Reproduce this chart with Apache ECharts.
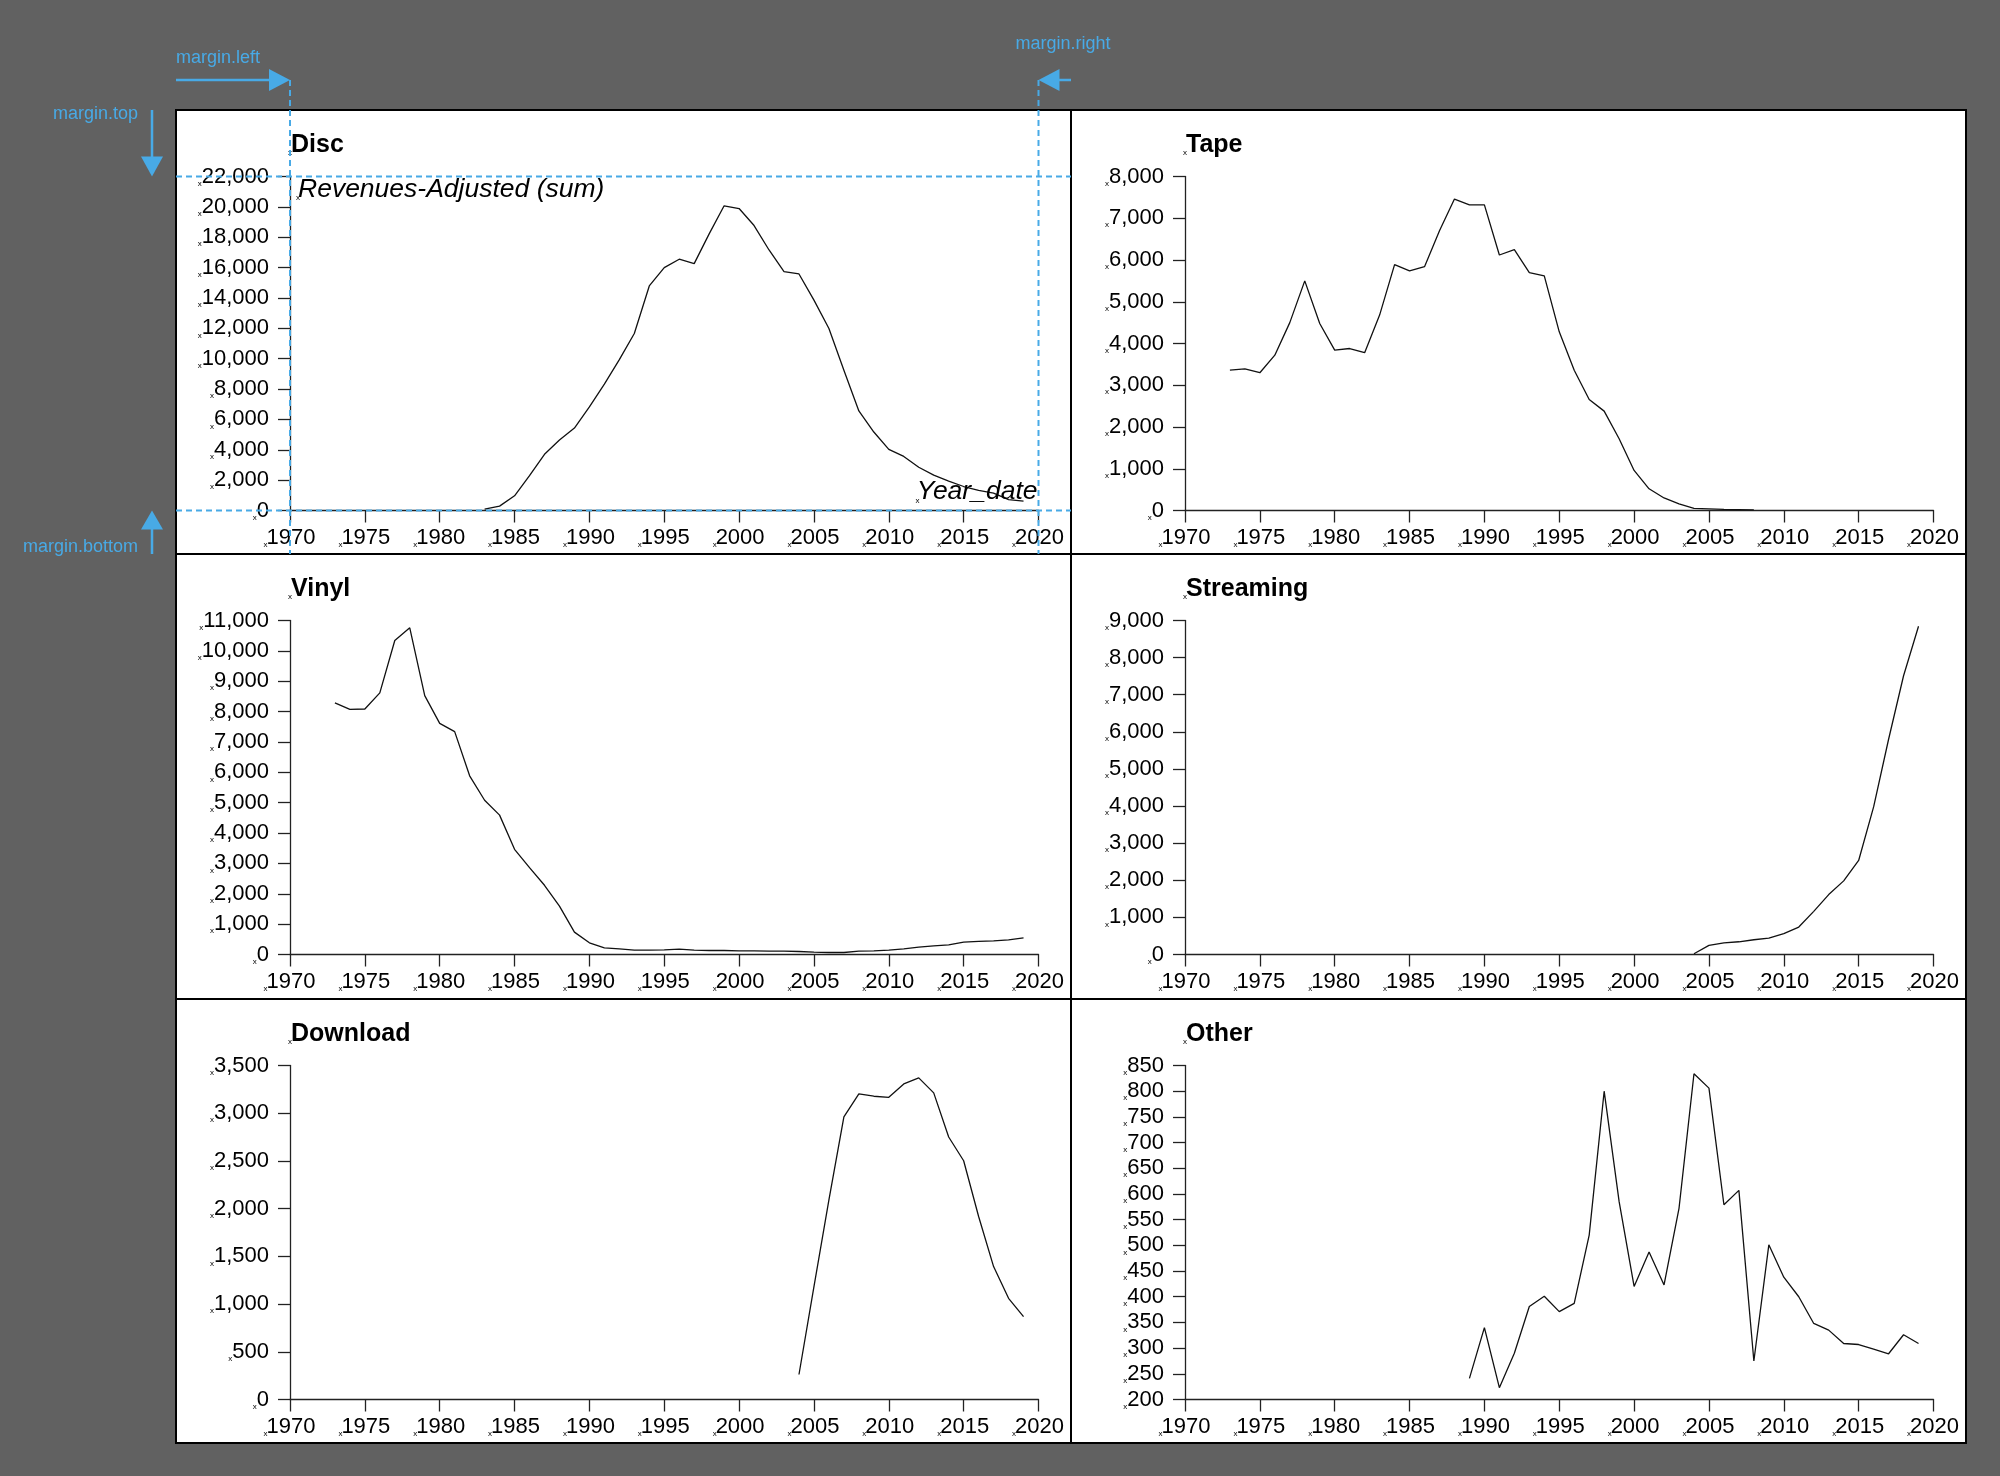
<!DOCTYPE html>
<html><head><meta charset="utf-8">
<script src="https://cdn.jsdelivr.net/npm/echarts@6/dist/echarts.min.js"></script>
<style>html,body{margin:0;padding:0;background:#616161}#c{width:2000px;height:1476px}</style>
</head><body><div id="c"></div>
<script>
// ---------- data ----------
const panelNames = ['Disc', 'Tape', 'Vinyl', 'Streaming', 'Download', 'Other'];
const xMin = 1970, xMax = 2020, xStep = 5;

const discStart = 1983;
const discValues = [90, 290, 970, 2290, 3700, 4640, 5430, 6820, 8320, 9940, 11660, 14790, 16000, 16550, 16260, 18220, 20070, 19890, 18770, 17160, 15730, 15580, 13860, 11990, 9240, 6560, 5170, 4030, 3560, 2850, 2330, 1940, 1580, 1320, 1150, 720, 620];

const tapeStart = 1973;
const tapeValues = [3360, 3390, 3300, 3720, 4500, 5500, 4480, 3840, 3880, 3780, 4680, 5890, 5740, 5840, 6700, 7460, 7320, 7320, 6120, 6250, 5700, 5620, 4280, 3360, 2660, 2380, 1720, 960, 520, 300, 160, 50, 40, 25, 20, 15];

const vinylStart = 1973;
const vinylValues = [8290, 8075, 8085, 8615, 10340, 10760, 8525, 7610, 7340, 5885, 5080, 4590, 3465, 2860, 2280, 1595, 737, 385, 220, 187, 143, 143, 154, 176, 143, 132, 132, 121, 121, 110, 110, 99, 77, 66, 66, 110, 121, 143, 187, 242, 286, 319, 407, 429, 451, 484, 550];

const streamingStart = 2004;
const streamingValues = [20, 245, 315, 343, 397, 442, 560, 740, 1163, 1614, 1984, 2534, 3977, 5800, 7511, 8846];

const downloadStart = 2004;
const downloadValues = [262, 1183, 2093, 2961, 3202, 3178, 3167, 3307, 3370, 3213, 2751, 2502, 1918, 1393, 1060, 868];

const otherStart = 1989;
const otherValues = [241, 340, 223, 290, 381, 401, 371, 387, 520, 800, 585, 420, 487, 423, 572, 834, 806, 579, 607, 275, 501, 438, 400, 348, 335, 309, 307, 298, 289, 326, 309];

const yMins = [0, 0, 0, 0, 0, 200];
const yMaxs = [22000, 8000, 11000, 9000, 3500, 850];
const ySteps = [2000, 1000, 1000, 1000, 500, 50];

const yAxisName = 'Revenues-Adjusted (sum)';
const xAxisName = 'Year_date';
const marginLabels = ['margin.left', 'margin.top', 'margin.right', 'margin.bottom'];

// ---------- layout ----------
const FF = '"Liberation Sans", Arial, Helvetica, sans-serif';
const BLUE = '#48aae6';
const PL = [176, 1071], PT = [110, 554, 999];
const PW = 895, PH = 444;
const GL = 114, GT = 66.5, GW = 748.5, GH = 334;

const starts = [discStart, tapeStart, vinylStart, streamingStart, downloadStart, otherStart];
const values = [discValues, tapeValues, vinylValues, streamingValues, downloadValues, otherValues];

const rich = {
  m: { fontSize: 8, fontFamily: FF, color: '#000', width: 2, verticalAlign: 'bottom', lineHeight: 10 },
  v: { fontSize: 22, fontFamily: FF, color: '#000' }
};

const grids = [], xAxes = [], yAxes = [], series = [], graphics = [];

function txt(x, baseline, str, size, opts) {
  opts = opts || {};
  return {
    type: 'text', z: opts.z || 50, silent: true,
    style: {
      text: str, x: x, y: baseline - 0.35 * size,
      font: (opts.style || '') + ' ' + (opts.weight || 'normal') + ' ' + size + 'px ' + FF,
      fill: opts.fill || '#000',
      align: opts.align || 'left', textAlign: opts.align || 'left',
      verticalAlign: 'middle', textVerticalAlign: 'middle'
    }
  };
}
function marker(x, y) { return txt(x - 2, y + 2, 'x', 8); }

// background panels
graphics.push({ type: 'rect', z: -10, silent: true,
  shape: { x: PL[0], y: PT[0], width: 2 * PW, height: 3 * PH + 1 },
  style: { fill: '#fff', stroke: '#000', lineWidth: 2 } });
graphics.push({ type: 'line', z: -9, silent: true,
  shape: { x1: PL[1], y1: PT[0], x2: PL[1], y2: PT[0] + 3 * PH + 1 }, style: { stroke: '#000', lineWidth: 2 } });
[PT[1], PT[2]].forEach(y => graphics.push({ type: 'line', z: -9, silent: true,
  shape: { x1: PL[0], y1: y, x2: PL[0] + 2 * PW, y2: y }, style: { stroke: '#000', lineWidth: 2 } }));

for (let i = 0; i < 6; i++) {
  const col = i % 2, row = Math.floor(i / 2);
  const left = PL[col] + GL, top = PT[row] + GT;
  grids.push({ left: left, top: top, width: GW, height: GH, containLabel: false });
  xAxes.push({
    gridIndex: i, type: 'value', min: xMin, max: xMax, interval: xStep,
    axisLine: { show: true, onZero: false, lineStyle: { color: '#222', width: 1.3 } },
    axisTick: { show: true, length: 12, lineStyle: { color: '#222', width: 1.3 } },
    splitLine: { show: false },
    axisLabel: { margin: 16, showMinLabel: true, showMaxLabel: true, hideOverlap: false,
      formatter: v => '{m|x}{v|' + v + '}', rich: rich }
  });
  yAxes.push({
    gridIndex: i, type: 'value', min: yMins[i], max: yMaxs[i], interval: ySteps[i],
    axisLine: { show: true, onZero: false, lineStyle: { color: '#222', width: 1.3 } },
    axisTick: { show: true, length: 12, lineStyle: { color: '#222', width: 1.3 } },
    splitLine: { show: false },
    axisLabel: { margin: 21, showMinLabel: true, showMaxLabel: true, hideOverlap: false,
      formatter: v => '{m|x}{v|' + v.toLocaleString('en-US') + '}', rich: rich }
  });
  series.push({
    type: 'line', xAxisIndex: i, yAxisIndex: i, showSymbol: false, silent: true,
    lineStyle: { color: '#111', width: 1.3 }, z: 5,
    data: values[i].map((v, k) => [starts[i] + k, v])
  });
  // panel title
  graphics.push(txt(left + 1, PT[row] + 43.5, panelNames[i], 25, { weight: 'bold' }));
  graphics.push(marker(left, PT[row] + 43.5));
}

// Disc axis names
graphics.push(txt(PL[0] + GL + 8, PT[0] + GT + 22.5, yAxisName, 26.5, { style: 'italic' }));
graphics.push(marker(PL[0] + GL + 8, PT[0] + GT + 22.5));
graphics.push(txt(PL[0] + GL + GW - 1, PT[0] + GT + GH - 10, xAxisName, 26.5, { style: 'italic', align: 'right' }));
graphics.push(marker(PL[0] + GL + GW - 121, PT[0] + GT + GH - 9));

// margin annotations
const gx1 = PL[0] + GL, gx2 = PL[0] + GL + GW, gy1 = PT[0] + GT, gy2 = PT[0] + GT + GH;
const dash = { stroke: BLUE, lineWidth: 2, lineDash: [6, 4] };
function bline(x1, y1, x2, y2, st) { return { type: 'line', z: 90, silent: true, shape: { x1, y1, x2, y2 }, style: st }; }
function tri(pts) { return { type: 'polygon', z: 91, silent: true, shape: { points: pts }, style: { fill: BLUE } }; }
graphics.push(bline(gx1, 80, gx1, PT[1], dash));
graphics.push(bline(gx2, 80, gx2, PT[1], dash));
graphics.push(bline(PL[0], gy1, PL[1], gy1, dash));
graphics.push(bline(PL[0], gy2, PL[1], gy2, dash));
const solid = { stroke: BLUE, lineWidth: 2.5 };
// left
graphics.push(bline(PL[0], 80, gx1 - 18, 80, solid));
graphics.push(tri([[gx1, 80], [gx1 - 21, 69], [gx1 - 21, 91]]));
graphics.push(txt(PL[0], 64, marginLabels[0], 18, { fill: BLUE, z: 92 }));
// top
graphics.push(bline(152, PT[0], 152, gy1 - 18, solid));
graphics.push(tri([[152, gy1], [141, gy1 - 20], [163, gy1 - 20]]));
graphics.push(txt(138, 120.5, marginLabels[1], 18, { fill: BLUE, align: 'right', z: 92 }));
// right
graphics.push(bline(PL[1], 80, gx2 + 18, 80, solid));
graphics.push(tri([[gx2, 80], [gx2 + 21, 69], [gx2 + 21, 91]]));
graphics.push(txt(gx2 - 23, 50, marginLabels[2], 18, { fill: BLUE, z: 92 }));
// bottom
graphics.push(bline(152, PT[1], 152, gy2 + 16, solid));
graphics.push(tri([[152, gy2], [141, gy2 + 19], [163, gy2 + 19]]));
graphics.push(txt(138, 553, marginLabels[3], 18, { fill: BLUE, align: 'right', z: 92 }));

const chart = echarts.init(document.getElementById('c'), null, { renderer: 'canvas' });
chart.setOption({
  backgroundColor: '#616161',
  animation: false,
  grid: grids, xAxis: xAxes, yAxis: yAxes, series: series,
  graphic: { elements: graphics }
});
</script></body></html>
